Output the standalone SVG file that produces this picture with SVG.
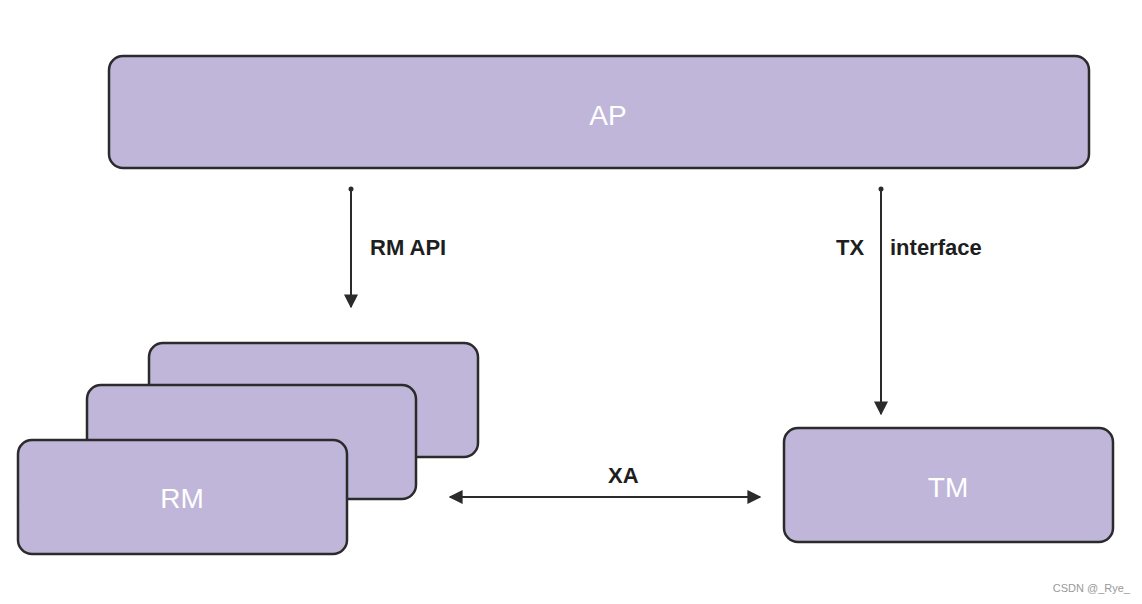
<svg xmlns="http://www.w3.org/2000/svg" width="1142" height="604" viewBox="0 0 1142 604">
<defs>
<style>
.box{fill:#bfb6d9;stroke:#2b2b2b;stroke-width:2.5}
.lbl{font-family:"Liberation Sans",sans-serif;font-size:28px;fill:#ffffff;text-anchor:middle}
.t{font-family:"Liberation Sans",sans-serif;font-size:22px;fill:#1e1e1e;font-weight:bold}
.c{stroke:#2b2b2b;stroke-width:2;fill:none}
</style>
<marker id="ah" viewBox="0 0 10 10" refX="9" refY="5" markerWidth="7" markerHeight="7" orient="auto-start-reverse"><path d="M0,0 L10,5 L0,10 z" fill="#2b2b2b"/></marker>
</defs>
<rect width="1142" height="604" fill="#fff"/>
<g id="AP"><rect class="box" x="109" y="56" width="980" height="112" rx="14"/><text class="lbl" x="608" y="125">AP</text></g>
<g id="RM3"><rect class="box" x="149" y="343" width="329" height="114" rx="14"/></g>
<g id="RM2"><rect class="box" x="87" y="385" width="329" height="114" rx="14"/></g>
<g id="RM"><rect class="box" x="18" y="440" width="329" height="114" rx="14"/><text class="lbl" x="182" y="508">RM</text></g>
<g id="TM"><rect class="box" x="784" y="428" width="329" height="114" rx="14"/><text class="lbl" x="948" y="497">TM</text></g>
<g id="connectors">
<circle cx="351" cy="189" r="2.5" fill="#2b2b2b"/>
<line class="c" x1="351" y1="189" x2="351" y2="307" marker-end="url(#ah)"/>
<circle cx="881" cy="189" r="2.5" fill="#2b2b2b"/>
<line class="c" x1="881" y1="189" x2="881" y2="414" marker-end="url(#ah)"/>
<line class="c" x1="450" y1="497" x2="760" y2="497" marker-start="url(#ah)" marker-end="url(#ah)"/>
<text class="t" x="370" y="255">RM API</text>
<text class="t" x="836" y="255">TX</text>
<text class="t" x="890" y="255">interface</text>
<text class="t" x="608" y="483">XA</text>
</g>
<text x="1130" y="592" font-family="Liberation Sans,sans-serif" font-size="11" fill="#999" text-anchor="end">CSDN @_Rye_</text>
</svg>
